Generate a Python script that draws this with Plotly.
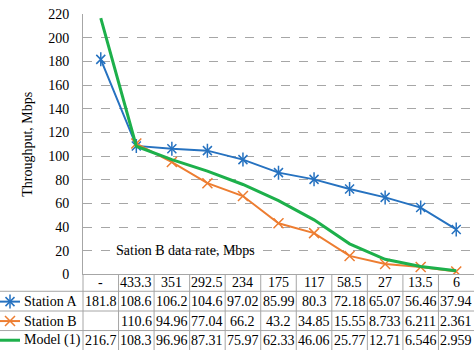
import plotly.graph_objects as go

categories = ["-", "433.3", "351", "292.5", "234", "175", "117", "58.5", "27", "13.5", "6"]
station_a = [181.8, 108.6, 106.2, 104.6, 97.02, 85.99, 80.3, 72.18, 65.07, 56.46, 37.94]
station_b = [None, 110.6, 94.96, 77.04, 66.2, 43.2, 34.85, 15.55, 8.733, 6.211, 2.361]
model_1 = [216.7, 108.3, 96.96, 87.31, 75.97, 62.33, 46.06, 25.77, 12.71, 6.546, 2.959]
series_names = ["Station A", "Station B", "Model (1)"]
y_ticks = list(range(0, 221, 20))

W, H = 474, 358
PL, PT, PB = 83, 7.5, 279  # plot area pixel edges
BLUE, ORANGE, GREEN = "#2672C0", "#ED7D31", "#1DB04B"
GRID = "#A6A6A6"
FONT = "Liberation Serif"


def px(x):
    return x / W


def py(y):
    return 1 - y / H


def mk(symbol, color, size):
    return dict(symbol=symbol, size=size, color=color, line=dict(color=color, width=1.5))


fig = go.Figure()

# Data series
fig.add_trace(go.Scatter(x=categories, y=station_a, mode="lines+markers",
                         line=dict(color=BLUE, width=2), marker=mk("x-thin-open", BLUE, 9),
                         showlegend=False))
fig.add_trace(go.Scatter(x=categories, y=station_a, mode="markers",
                         marker=mk("line-ns-open", BLUE, 10), showlegend=False))
fig.add_trace(go.Scatter(x=categories, y=station_b, mode="lines+markers",
                         line=dict(color=ORANGE, width=2), marker=mk("x-thin-open", ORANGE, 10),
                         showlegend=False))
fig.add_trace(go.Scatter(x=categories, y=model_1, mode="lines",
                         line=dict(color=GREEN, width=3), showlegend=False))

# Row geometry of the data table (pixels)
header_center = 287.8
row_lines = [296.7, 317.3, 337.7]
row_centers = [307.5, 327.8, 347.8]
row_values = [station_a, station_b, model_1]

# Legend keys in table first column, on a pixel-space overlay axis
key_specs = [
    dict(color=BLUE, width=2, sym=[("x-thin-open", 9), ("line-ns-open", 10)]),
    dict(color=ORANGE, width=2, sym=[("x-thin-open", 10)]),
    dict(color=GREEN, width=3, sym=[]),
]
for yc, spec in zip(row_centers, key_specs):
    fig.add_trace(go.Scatter(x=[0, 20], y=[yc, yc], mode="lines", xaxis="x2", yaxis="y2",
                             line=dict(color=spec["color"], width=spec["width"]), showlegend=False,
                             hoverinfo="skip"))
    for s, sz in spec["sym"]:
        fig.add_trace(go.Scatter(x=[10], y=[yc], mode="markers", xaxis="x2", yaxis="y2",
                                 marker=mk(s, spec["color"], sz), showlegend=False, hoverinfo="skip"))

shapes = []
for yl in row_lines:
    shapes.append(dict(type="line", xref="paper", yref="paper", x0=0, x1=1, y0=py(yl), y1=py(yl),
                       line=dict(color=GRID, width=1)))
shapes.append(dict(type="line", xref="paper", yref="paper", x0=px(PL), x1=px(PL), y0=0, y1=py(PB),
                   line=dict(color=GRID, width=1)))
n = len(categories)
for i in range(1, n):
    xx = px(PL + i * (W - PL) / n)
    shapes.append(dict(type="line", xref="paper", yref="paper", x0=xx, x1=xx, y0=0, y1=py(PB),
                       line=dict(color=GRID, width=1)))

TXT = dict(family=FONT, size=14, color="black")
annotations = []
# header row: category labels
for i, c in enumerate(categories):
    annotations.append(dict(text=c, xref="x", yref="paper", x=i, y=py(header_center),
                            xanchor="center", yanchor="middle", showarrow=False, font=TXT))
for name, yc, vals in zip(series_names, row_centers, row_values):
    annotations.append(dict(text=name, xref="paper", yref="paper", x=px(22), y=py(yc),
                            xanchor="left", yanchor="middle", showarrow=False, font=TXT))
    for i, v in enumerate(vals):
        if v is None:
            continue
        annotations.append(dict(text=str(v), xref="x", yref="paper", x=i, y=py(yc),
                                xanchor="center", yanchor="middle", showarrow=False, font=TXT))
annotations.append(dict(text="Sation B data rate, Mbps", xref="paper", yref="y", x=px(185), y=20,
                        xanchor="center", yanchor="middle", showarrow=False, font=TXT))

fig.update_layout(
    width=W, height=H,
    margin=dict(l=0, r=0, t=0, b=0),
    paper_bgcolor="white", plot_bgcolor="rgba(0,0,0,0)",
    font=TXT,
    xaxis=dict(domain=[px(PL), 1], type="category", categoryorder="array", categoryarray=categories,
               range=[-0.5, n - 0.5], showgrid=False, zeroline=False,
               showline=True, linecolor=GRID, linewidth=1, ticks="", showticklabels=False),
    yaxis=dict(domain=[py(PB), py(PT)], range=[0, 220], tickvals=y_ticks,
               showgrid=True, gridcolor=GRID, griddash="dash", gridwidth=1, zeroline=False,
               showline=True, linecolor=GRID, linewidth=1, ticks="",
               tickfont=TXT, ticklabelstandoff=10,
               title=dict(text="Throughput, Mbps", standoff=12, font=TXT)),
    xaxis2=dict(domain=[0, 1], range=[0, W], anchor="y2", visible=False, fixedrange=True),
    yaxis2=dict(domain=[0, 1], range=[H, 0], anchor="x2", visible=False, fixedrange=True),
    shapes=shapes,
    annotations=annotations,
)

fig.write_html("out.html", config={"displayModeBar": False},
               post_script="document.body.style.margin='0';document.body.style.overflow='hidden';")
